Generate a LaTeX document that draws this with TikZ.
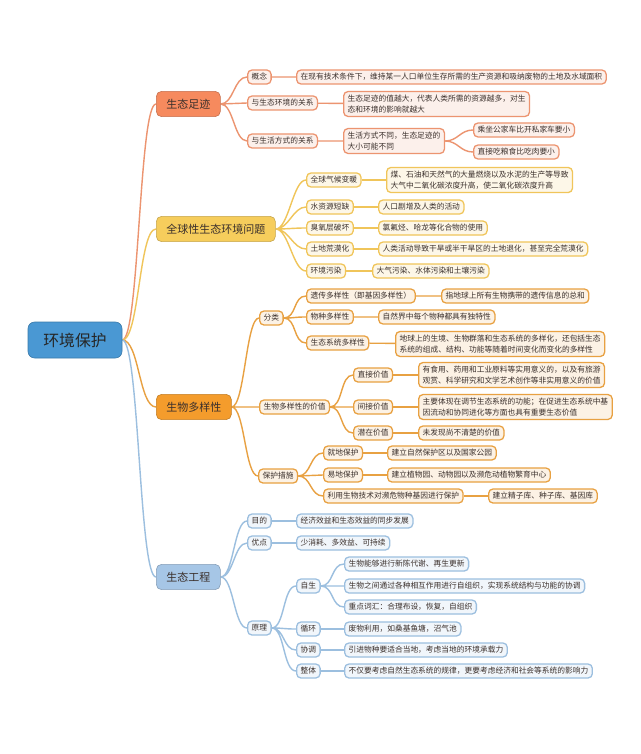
\documentclass[tikz,border=0pt]{standalone}
\usepackage{fontspec}
\setmainfont{Noto Sans CJK SC}
\usetikzlibrary{backgrounds}
\definecolor{rootblue}{HTML}{4A98D3}
\definecolor{footfill}{HTML}{F68A5E}
\definecolor{footline}{HTML}{EC9470}
\definecolor{globfill}{HTML}{F6CD5C}
\definecolor{globline}{HTML}{F0C55A}
\definecolor{biofill}{HTML}{F49C2C}
\definecolor{bioline}{HTML}{E8A142}
\definecolor{engfill}{HTML}{A6C6E6}
\definecolor{engline}{HTML}{9CBFDF}
\definecolor{inktext}{HTML}{3B302C}
\tikzset{
  leaf/.style={draw=#1, fill=#1!14, line width=1.1pt, rounded corners=1.3mm,
    inner xsep=1.2mm, inner ysep=0.9mm, minimum height=4.2mm, anchor=west,
    align=left, text=inktext, font=\fontsize{6.6}{10}\selectfont},
  topic/.style={fill=#1, draw=#1!80!black, line width=0.5pt, rounded corners=1.6mm,
    minimum height=7.6mm, inner xsep=3mm, anchor=west, text=inktext,
    font=\fontsize{9.4}{11}\selectfont},
  rootbox/.style={fill=rootblue, draw=rootblue!80!black, line width=0.5pt,
    rounded corners=2mm, minimum width=28.2mm, minimum height=10.8mm,
    text=black!85, font=\fontsize{13.5}{15}\selectfont},
  link/.style={draw=#1, line width=1.2pt},
  swing/.style={to path={.. controls +(#1,0) and +(-#1,0) .. (\tikztotarget)}},
  swing/.default=13
}
\begin{document}
\begin{tikzpicture}[x=0.3mm, y=-0.3mm]
  \useasboundingbox (0,0) rectangle (640,754);
  \node[rootbox] (root) at (75,340) {环境保护};

  % ecological footprint
  \node[topic=footfill] (foot) at (156,104) {生态足迹};
  \node[leaf=footline] (concept) at (247,77) {概念};
  \node[leaf=footline] (conceptd) at (296,77) {在现有技术条件下，维持某一人口单位生存所需的生产资源和吸纳废物的土地及水域面积};
  \node[leaf=footline] (footenv) at (247,103) {与生态环境的关系};
  \node[leaf=footline] (footenvd) at (343,104) {生态足迹的值越大，代表人类所需的资源越多，对生\\态和环境的影响就越大};
  \node[leaf=footline] (footlife) at (247,141) {与生活方式的关系};
  \node[leaf=footline] (footlifed) at (343,141) {生活方式不同，生态足迹的\\大小可能不同};
  \node[leaf=footline] (bus) at (473,130) {乘坐公家车比开私家车要小};
  \node[leaf=footline] (grain) at (473,152) {直接吃粮食比吃肉要小};

  % global problems
  \node[topic=globfill] (glob) at (156,229) {全球性生态环境问题};
  \node[leaf=globline] (warm) at (306,180) {全球气候变暖};
  \node[leaf=globline] (warmd) at (386,180) {煤、石油和天然气的大量燃烧以及水泥的生产等导致\\大气中二氧化碳浓度升高，使二氧化碳浓度升高};
  \node[leaf=globline] (water) at (306,207) {水资源短缺};
  \node[leaf=globline] (waterd) at (378,207) {人口剧增及人类的活动};
  \node[leaf=globline] (ozone) at (306,228) {臭氧层破坏};
  \node[leaf=globline] (ozoned) at (378,228) {氯氟烃、哈龙等化合物的使用};
  \node[leaf=globline] (desert) at (306,249) {土地荒漠化};
  \node[leaf=globline] (desertd) at (378,249) {人类活动导致干旱或半干旱区的土地退化，甚至完全荒漠化};
  \node[leaf=globline] (pollu) at (306,271) {环境污染};
  \node[leaf=globline] (pollud) at (372,271) {大气污染、水体污染和土壤污染};

  % biodiversity
  \node[topic=biofill] (bio) at (156,407) {生物多样性};
  \node[leaf=bioline] (kind) at (259,318) {分类};
  \node[leaf=bioline] (gene) at (306,296) {遗传多样性（即基因多样性）};
  \node[leaf=bioline] (gened) at (441,296) {指地球上所有生物携带的遗传信息的总和};
  \node[leaf=bioline] (species) at (306,317) {物种多样性};
  \node[leaf=bioline] (speciesd) at (378,317) {自然界中每个物种都具有独特性};
  \node[leaf=bioline] (eco) at (306,343) {生态系统多样性};
  \node[leaf=bioline] (ecod) at (395,344) {地球上的生境、生物群落和生态系统的多样化，还包括生态\\系统的组成、结构、功能等随着时间变化而变化的多样性};
  \node[leaf=bioline] (value) at (259,407) {生物多样性的价值};
  \node[leaf=bioline] (direct) at (353,375) {直接价值};
  \node[leaf=bioline] (directd) at (418,375) {有食用、药用和工业原料等实用意义的，以及有旅游\\观赏、科学研究和文学艺术创作等非实用意义的价值};
  \node[leaf=bioline] (indirect) at (353,407) {间接价值};
  \node[leaf=bioline] (indirectd) at (418,407) {主要体现在调节生态系统的功能；在促进生态系统中基\\因流动和协同进化等方面也具有重要生态价值};
  \node[leaf=bioline] (latent) at (353,433) {潜在价值};
  \node[leaf=bioline] (latentd) at (418,433) {未发现尚不清楚的价值};
  \node[leaf=bioline] (protect) at (258,476) {保护措施};
  \node[leaf=bioline] (insitu) at (323,453) {就地保护};
  \node[leaf=bioline] (insitud) at (387,453) {建立自然保护区以及国家公园};
  \node[leaf=bioline] (exsitu) at (323,475) {易地保护};
  \node[leaf=bioline] (exsitud) at (387,475) {建立植物园、动物园以及濒危动植物繁育中心};
  \node[leaf=bioline] (biotech) at (323,496) {利用生物技术对濒危物种基因进行保护};
  \node[leaf=bioline] (biotechd) at (488,496) {建立精子库、种子库、基因库};

  % ecological engineering
  \node[topic=engfill] (eng) at (156,577) {生态工程};
  \node[leaf=engline] (aim) at (247,521) {目的};
  \node[leaf=engline] (aimd) at (296,521) {经济效益和生态效益的同步发展};
  \node[leaf=engline] (merit) at (247,543) {优点};
  \node[leaf=engline] (meritd) at (296,543) {少消耗、多效益、可持续};
  \node[leaf=engline] (rule) at (247,628) {原理};
  \node[leaf=engline] (self) at (296,586) {自生};
  \node[leaf=engline] (selfa) at (344,564) {生物能够进行新陈代谢、再生更新};
  \node[leaf=engline] (selfb) at (344,586) {生物之间通过各种相互作用进行自组织，实现系统结构与功能的协调};
  \node[leaf=engline] (selfc) at (344,607) {重点词汇：合理布设，恢复，自组织};
  \node[leaf=engline] (cycle) at (296,629) {循环};
  \node[leaf=engline] (cycled) at (344,629) {废物利用，如桑基鱼塘，沼气池};
  \node[leaf=engline] (coord) at (296,650) {协调};
  \node[leaf=engline] (coordd) at (344,650) {引进物种要适合当地，考虑当地的环境承载力};
  \node[leaf=engline] (whole) at (296,671) {整体};
  \node[leaf=engline] (wholed) at (344,671) {不仅要考虑自然生态系统的规律，更要考虑经济和社会等系统的影响力};

  \begin{scope}[on background layer]
    \fill[white] (0,0) rectangle (640,754);
    \draw[link=footline] (root.east) to[swing=17] (foot.west);
    \draw[link=globline] (root.east) to[swing=17] (glob.west);
    \draw[link=bioline] (root.east) to[swing=17] (bio.west);
    \draw[link=engline] (root.east) to[swing=17] (eng.west);
    \draw[link=footline] (foot.east) to[swing] (concept.west) (foot.east) to[swing] (footenv.west)
      (foot.east) to[swing] (footlife.west);
    \draw[link=footline] (concept) -- (conceptd) (footenv) -- (footenvd) (footlife) -- (footlifed);
    \draw[link=footline] (footlifed.east) to[swing] (bus.west) (footlifed.east) to[swing] (grain.west);
    \draw[link=globline] (glob.east) to[swing] (warm.west) (glob.east) to[swing] (water.west)
      (glob.east) to[swing] (ozone.west) (glob.east) to[swing] (desert.west)
      (glob.east) to[swing] (pollu.west);
    \draw[link=globline] (warm) -- (warmd) (water) -- (waterd) (ozone) -- (ozoned)
      (desert) -- (desertd) (pollu) -- (pollud);
    \draw[link=bioline] (bio.east) to[swing] (kind.west) (bio.east) to[swing] (value.west)
      (bio.east) to[swing] (protect.west);
    \draw[link=bioline] (kind.east) to[swing] (gene.west) (kind.east) to[swing] (species.west)
      (kind.east) to[swing] (eco.west);
    \draw[link=bioline] (gene) -- (gened) (species) -- (speciesd) (eco) -- (ecod);
    \draw[link=bioline] (value.east) to[swing] (direct.west) (value.east) to[swing] (indirect.west)
      (value.east) to[swing] (latent.west);
    \draw[link=bioline] (direct) -- (directd) (indirect) -- (indirectd) (latent) -- (latentd);
    \draw[link=bioline] (protect.east) to[swing] (insitu.west) (protect.east) to[swing] (exsitu.west)
      (protect.east) to[swing] (biotech.west);
    \draw[link=bioline] (insitu) -- (insitud) (exsitu) -- (exsitud) (biotech) -- (biotechd);
    \draw[link=engline] (eng.east) to[swing] (aim.west) (eng.east) to[swing] (merit.west)
      (eng.east) to[swing] (rule.west);
    \draw[link=engline] (aim) -- (aimd) (merit) -- (meritd);
    \draw[link=engline] (rule.east) to[swing] (self.west) (rule.east) to[swing] (cycle.west)
      (rule.east) to[swing] (coord.west) (rule.east) to[swing] (whole.west);
    \draw[link=engline] (self.east) to[swing] (selfa.west) (self.east) to[swing] (selfb.west)
      (self.east) to[swing] (selfc.west);
    \draw[link=engline] (cycle) -- (cycled) (coord) -- (coordd) (whole) -- (wholed);
  \end{scope}
\end{tikzpicture}
\end{document}
